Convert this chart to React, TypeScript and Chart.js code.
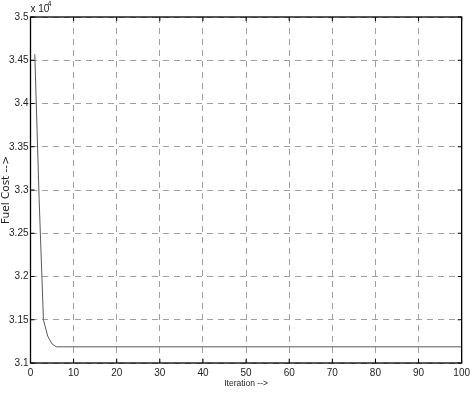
import { useEffect, useRef } from 'react';
import Chart from 'chart.js/auto';

// Fuel cost per iteration, in units of 10^4
const iterations = [1, 2, 3, 4, 5, 6, 100];
const fuelCost = [3.457, 3.29, 3.15, 3.131, 3.122, 3.1187, 3.1187];

const xTicks = [0, 10, 20, 30, 40, 50, 60, 70, 80, 90, 100];
const yTicks = [3.1, 3.15, 3.2, 3.25, 3.3, 3.35, 3.4, 3.45, 3.5];

const sansFont = '"Liberation Sans", Arial, Helvetica, sans-serif';

// MATLAB-like box with inward ticks and the "x 10^4" exponent label
const matlabAxes = {
  id: 'matlabAxes',
  afterDraw(chart: any) {
    const { ctx, chartArea: a, scales } = chart;
    ctx.save();
    ctx.setLineDash([]);
    ctx.strokeStyle = '#000';
    ctx.lineWidth = 1;
    ctx.beginPath();
    scales.x.ticks.forEach((t: any) => {
      const px = scales.x.getPixelForValue(t.value);
      ctx.moveTo(px, a.bottom);
      ctx.lineTo(px, a.bottom - 4);
      ctx.moveTo(px, a.top);
      ctx.lineTo(px, a.top + 4);
    });
    scales.y.ticks.forEach((t: any) => {
      const py = scales.y.getPixelForValue(t.value);
      ctx.moveTo(a.left, py);
      ctx.lineTo(a.left + 4, py);
      ctx.moveTo(a.right, py);
      ctx.lineTo(a.right - 4, py);
    });
    ctx.stroke();

    ctx.lineWidth = 1.3;
    ctx.strokeRect(a.left, a.top, a.right - a.left, a.bottom - a.top);

    ctx.fillStyle = '#222';
    ctx.textBaseline = 'alphabetic';
    ctx.textAlign = 'left';
    ctx.font = `10px ${sansFont}`;
    ctx.fillText('x 10', a.left, 12);
    ctx.font = `7px ${sansFont}`;
    ctx.fillText('4', a.left + 17, 6);
    ctx.restore();
  },
};

export default function App() {
  const canvasRef = useRef<HTMLCanvasElement>(null);

  useEffect(() => {
    document.body.style.margin = '0';
    if (!canvasRef.current) return;

    const chart = new Chart(canvasRef.current, {
      type: 'line',
      data: {
        datasets: [
          {
            label: 'Fuel Cost',
            data: iterations.map((it, i) => ({ x: it, y: fuelCost[i] })),
            borderColor: '#5a5a5a',
            borderWidth: 1,
            pointRadius: 0,
            fill: false,
            tension: 0,
          },
        ],
      },
      options: {
        responsive: false,
        animation: false,
        layout: { padding: { top: 17, right: 9, left: 0, bottom: 0 } },
        plugins: {
          legend: { display: false },
          tooltip: { enabled: false },
        },
        scales: {
          x: {
            type: 'linear',
            min: 0,
            max: 100,
            afterBuildTicks: (s: any) => {
              s.ticks = xTicks.map((v) => ({ value: v }));
            },
            afterFit: (s: any) => {
              s.height = 52;
            },
            grid: { color: '#a0a0a0', lineWidth: 1, drawTicks: false },
            border: { display: false, dash: [6, 5] },
            ticks: {
              autoSkip: false,
              maxRotation: 0,
              padding: 4,
              color: '#222',
              font: { family: sansFont, size: 10 },
              callback: (v: any) => String(v),
            },
            title: {
              display: true,
              text: 'Iteration -->',
              color: '#222',
              font: { family: sansFont, size: 8.5 },
              padding: { top: 0, bottom: 26 },
            },
          },
          y: {
            type: 'linear',
            min: 3.1,
            max: 3.5,
            afterBuildTicks: (s: any) => {
              s.ticks = yTicks.map((v) => ({ value: v }));
            },
            afterFit: (s: any) => {
              s.width = 30.5;
            },
            grid: { color: '#a0a0a0', lineWidth: 1, drawTicks: false },
            border: { display: false, dash: [6, 5] },
            ticks: {
              autoSkip: false,
              padding: 2,
              color: '#222',
              font: { family: sansFont, size: 10 },
              callback: (v: any) => String(v),
            },
            title: {
              display: true,
              text: 'Fuel Cost -->',
              color: '#222',
              font: { family: '"DejaVu Sans", sans-serif', size: 10.5 },
              padding: 0,
            },
          },
        },
      },
      plugins: [matlabAxes],
    } as any);

    return () => {
      chart.destroy();
    };
  }, []);

  return (
    <div style={{ width: 474, height: 415, background: '#fff' }}>
      <canvas ref={canvasRef} width={474} height={415} />
    </div>
  );
}
